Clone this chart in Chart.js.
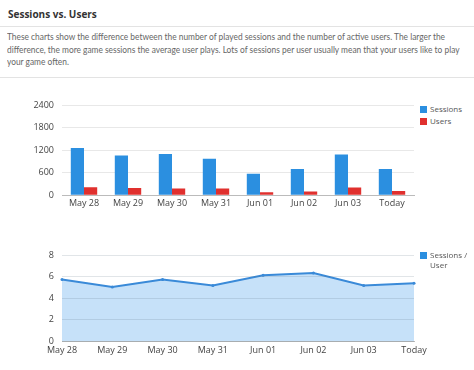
<!DOCTYPE html>
<html>
<head>
<meta charset="utf-8">
<script src="https://cdn.jsdelivr.net/npm/chart.js@4/dist/chart.umd.min.js"></script>
<style>
  body { margin: 0; width: 474px; height: 370px; background: #fff; font-family: "Open Sans", sans-serif; position: relative; overflow: hidden; }
  .title { position: absolute; left: 8px; top: 7px; font-size: 10px; font-weight: bold; color: #333; }
  .sep { position: absolute; left: 0; width: 474px; height: 1px; background: #e3e3e3; }
  .desc { position: absolute; left: 7px; top: 31px; font-family: Lato, sans-serif; font-size: 8.6px; line-height: 12.5px; color: #666; white-space: nowrap; transform-origin: 0 0; }
  .desc span { display: inline-block; }
  .legend { position: absolute; left: 420px; font-size: 8px; color: #555; line-height: 10px; }
  .legend div { position: relative; padding-left: 10px; margin-bottom: 2px; }
  .legend span { position: absolute; left: 0; top: 2px; width: 7px; height: 7px; }
  canvas { position: absolute; left: 0; }
</style>
</head>
<body>
<div class="title">Sessions vs. Users</div>
<div class="sep" style="top:26px"></div>
<div class="desc" id="desc"><span id="firstLine">These charts show the difference between the number of played sessions and the number of active users. The larger the</span><br>difference, the more game sessions the average user plays. Lots of sessions per user usually mean that your users like to play<br>your game often.</div>
<div class="sep" style="top:77px"></div>

<div style="position:absolute;left:0;top:92px;width:420px;height:120px"><canvas id="barChart"></canvas></div>
<div class="legend" style="top:104px">
  <div><span style="background:#2b8fe0"></span>Sessions</div>
  <div><span style="background:#e0302e"></span>Users</div>
</div>

<div style="position:absolute;left:0;top:242px;width:440px;height:118px"><canvas id="lineChart"></canvas></div>
<div class="legend" style="top:250px">
  <div><span style="background:#2b8fe0"></span>Sessions /<br>User</div>
</div>

<script>
// chart data
const days = ['May 28', 'May 29', 'May 30', 'May 31', 'Jun 01', 'Jun 02', 'Jun 03', 'Today'];
const sessions = [1260, 1060, 1100, 975, 570, 700, 1090, 700];
const users = [215, 195, 178, 178, 80, 97, 205, 115];
const sessionsPerUser = [5.75, 5.05, 5.75, 5.2, 6.15, 6.35, 5.2, 5.4];
const barTicks = [0, 600, 1200, 1800, 2400];
const lineTicks = [0, 2, 4, 6, 8];

const tickFont = { family: 'Open Sans', size: 9 };
const tickColor = '#444';

// squeeze the description so the first line ends where the screenshot's does
const firstLine = document.getElementById('firstLine');
const lineW = firstLine.getBoundingClientRect().width;
document.getElementById('desc').style.transform = 'scaleX(' + Math.min(1, 438 / lineW) + ')';

//bar chart - sessions and users per day
const barCtx = document.getElementById('barChart').getContext('2d');
const barChart = new Chart(barCtx, {
    type: 'bar',
    data: {
        labels: days,
        datasets: [{
            label: 'Sessions',
            data: sessions,
            backgroundColor: '#2b8fe0',
            categoryPercentage: 0.6,
            barPercentage: 1.0
        }, {
            label: 'Users',
            data: users,
            backgroundColor: '#e0302e',
            categoryPercentage: 0.6,
            barPercentage: 1.0
        }]
    },
    options: {
        responsive: true,
        maintainAspectRatio: false,
        animation: false,
        layout: { padding: { right: 6, top: 0 } },
        plugins: { legend: { display: false }, tooltip: { enabled: false } },
        scales: {
            x: {
                grid: { display: false, drawTicks: false },
                border: { color: '#bbb' },
                ticks: { font: tickFont, color: tickColor, padding: 3 }
            },
            y: {
                min: 0,
                max: 2400,
                afterFit: (s) => { s.width = 62; },
                afterBuildTicks: (s) => { s.ticks = barTicks.map(v => ({ value: v })); },
                grid: { color: '#e8e8e8', drawTicks: false },
                border: { display: false },
                ticks: { font: tickFont, color: tickColor, padding: 8, callback: (v) => String(v) }
            }
        }
    }
});

//line chart - sessions per user
const lineCtx = document.getElementById('lineChart').getContext('2d');
const lineChart = new Chart(lineCtx, {
    type: 'line',
    data: {
        labels: days,
        datasets: [{
            label: 'Sessions / User',
            data: sessionsPerUser,
            borderColor: '#3a8ad8',
            borderWidth: 2,
            backgroundColor: 'rgba(160, 205, 245, 0.6)',
            fill: 'origin',
            tension: 0,
            pointRadius: 1.5,
            pointBackgroundColor: '#3a8ad8',
            pointBorderWidth: 0
        }]
    },
    options: {
        responsive: true,
        maintainAspectRatio: false,
        animation: false,
        layout: { padding: { right: 26, top: 0 } },
        plugins: { legend: { display: false }, tooltip: { enabled: false } },
        scales: {
            x: {
                offset: false,
                grid: { display: false, drawTicks: false },
                border: { color: '#bbb' },
                ticks: { font: tickFont, color: tickColor, padding: 4, maxRotation: 0, autoSkip: false }
            },
            y: {
                min: 0,
                max: 8,
                afterFit: (s) => { s.width = 62; },
                afterBuildTicks: (s) => { s.ticks = lineTicks.map(v => ({ value: v })); },
                grid: { color: 'rgba(90, 110, 130, 0.18)', drawTicks: false, z: 1 },
                border: { display: false },
                ticks: { font: tickFont, color: tickColor, padding: 8 }
            }
        }
    }
});
</script>
</body>
</html>
